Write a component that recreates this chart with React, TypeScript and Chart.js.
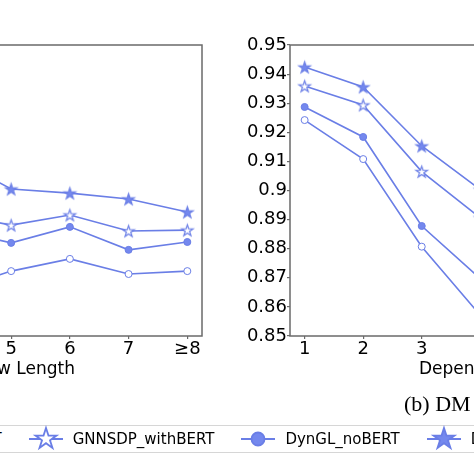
import React, { useEffect, useRef } from 'react';
import { Chart, registerables } from 'chart.js';
Chart.register(...registerables);

const seriesNames = ['GNNSDP_noBERT', 'GNNSDP_withBERT', 'DynGL_noBERT', 'DynGL_withBERT'];
const seriesMarkers = ['circle-open', 'star-open', 'circle-filled', 'star-filled'];

const yTicks = [0.85, 0.86, 0.87, 0.88, 0.89, 0.9, 0.91, 0.92, 0.93, 0.94, 0.95];
const yTickLabels = ['0.85', '0.86', '0.87', '0.88', '0.89', '0.9', '0.91', '0.92', '0.93', '0.94', '0.95'];

// (a) by length
const lengthTicks = [3, 4, 5, 6, 7, 8];
const lengthTickLabels = ['3', '4', '5', '6', '7', '≥8'];
const lengthX = [4, 5, 6, 7, 8];
const lengthGNNSDPno = [0.8656, 0.8723, 0.8765, 0.8713, 0.8723];
const lengthGNNSDPwith = [0.892, 0.8881, 0.8916, 0.8861, 0.8864];
const lengthDynGLno = [0.8866, 0.882, 0.8875, 0.8796, 0.8823];
const lengthDynGLwith = [0.9113, 0.9005, 0.8991, 0.8971, 0.8926];

// (b) by depth
const depthTicks = [1, 2, 3, 4, 5, 6];
const depthTickLabels = ['1', '2', '3', '4', '5', '6'];
const depthX = [1, 2, 3, 4];
const depthGNNSDPno = [0.9242, 0.9108, 0.8807, 0.8571];
const depthGNNSDPwith = [0.9359, 0.9294, 0.9065, 0.8906];
const depthDynGLno = [0.9287, 0.9184, 0.8878, 0.8697];
const depthDynGLwith = [0.9424, 0.9356, 0.9153, 0.9003];

const xLabelLeft = 'Arrow Length';
const xLabelRight = 'Dependency Depth';
const captionRight = '(b) DM';

const COLOR = '#6a7ee6';
const FILL = '#7488ee';
const FRAME = '#6a6a6a';
const FONT = "'DejaVu Sans', sans-serif";

function starCanvas(R: number, filled: boolean) {
  const lw = 1.2;
  const size = Math.ceil(2 * R + 2 * lw + 2);
  const c = document.createElement('canvas');
  c.width = size;
  c.height = size;
  const ctx = c.getContext('2d')!;
  const cx = size / 2, cy = size / 2 + R * 0.1;
  ctx.beginPath();
  for (let i = 0; i < 10; i++) {
    const r = i % 2 === 0 ? R : R * 0.382;
    const a = -Math.PI / 2 + (i * Math.PI) / 5;
    const x = cx + r * Math.cos(a), y = cy + r * Math.sin(a);
    if (i === 0) ctx.moveTo(x, y); else ctx.lineTo(x, y);
  }
  ctx.closePath();
  ctx.fillStyle = filled ? FILL : '#ffffff';
  ctx.fill();
  ctx.lineWidth = lw;
  ctx.strokeStyle = COLOR;
  ctx.stroke();
  return c;
}

const framePlugin = {
  id: 'frame',
  afterDraw(chart: any) {
    const { ctx, chartArea } = chart;
    ctx.save();
    ctx.strokeStyle = FRAME;
    ctx.lineWidth = 1.5;
    ctx.strokeRect(chartArea.left, chartArea.top, chartArea.right - chartArea.left, chartArea.bottom - chartArea.top);
    ctx.restore();
  },
};

function makeDatasets(xs: number[], lists: number[][]) {
  const starOpen = starCanvas(6, false);
  const starFilled = starCanvas(6, true);
  return lists.map((vals, i) => {
    const m = seriesMarkers[i];
    const isStar = m.startsWith('star');
    const filled = m.endsWith('filled');
    return {
      label: seriesNames[i],
      data: xs.map((x, j) => ({ x, y: vals[j] })),
      borderColor: COLOR,
      borderWidth: 1.6,
      backgroundColor: filled ? FILL : '#ffffff',
      pointStyle: isStar ? (filled ? starFilled : starOpen) : 'circle',
      pointRadius: isStar ? 6 : 3.5,
      pointBorderWidth: 1,
      pointBorderColor: COLOR,
      pointBackgroundColor: filled ? FILL : '#ffffff',
      tension: 0,
      fill: false,
    };
  });
}

function makeConfig(xs: number[], lists: number[][], ticks: number[], tickLabels: string[], xmin: number, xmax: number, yWidth: number, padRight: number): any {
  return {
    type: 'line',
    data: { datasets: makeDatasets(xs, lists) },
    options: {
      responsive: false,
      animation: false,
      layout: { padding: { top: 45, right: padRight, left: 0, bottom: 0 } },
      plugins: { legend: { display: false }, tooltip: { enabled: false } },
      scales: {
        x: {
          type: 'linear',
          min: xmin,
          max: xmax,
          afterBuildTicks: (scale: any) => {
            scale.ticks = ticks.map((v) => ({ value: v }));
          },
          afterFit: (scale: any) => {
            scale.height = 44;
          },
          border: { display: false },
          grid: { drawOnChartArea: false, drawTicks: true, tickLength: 3, color: FRAME, lineWidth: 1.2 },
          ticks: {
            autoSkip: false,
            maxRotation: 0,
            padding: 0,
            color: '#000',
            font: { family: FONT, size: 18, lineHeight: 1.2 },
            callback: (v: number) => {
              const k = ticks.indexOf(v);
              return k >= 0 ? tickLabels[k] : '';
            },
          },
        },
        y: {
          type: 'linear',
          min: 0.85,
          max: 0.95,
          afterBuildTicks: (scale: any) => {
            scale.ticks = yTicks.map((v) => ({ value: v }));
          },
          afterFit: (scale: any) => {
            scale.width = yWidth;
          },
          border: { display: false },
          grid: { drawOnChartArea: false, drawTicks: true, tickLength: 3, color: FRAME, lineWidth: 1.2 },
          ticks: {
            autoSkip: false,
            padding: 0,
            color: '#000',
            font: { family: FONT, size: 18 },
            callback: (v: number) => {
              const k = yTicks.findIndex((t) => Math.abs(t - v) < 1e-9);
              return k >= 0 ? yTickLabels[k] : '';
            },
          },
        },
      },
    },
    plugins: [framePlugin],
  };
}

function LegendIcon({ marker }: { marker: string }) {
  const isStar = marker.startsWith('star');
  const filled = marker.endsWith('filled');
  const fill = filled ? FILL : '#ffffff';
  let shape: any;
  if (isStar) {
    const R = 11, cx = 17, cy = 13;
    const pts: string[] = [];
    for (let i = 0; i < 10; i++) {
      const r = i % 2 === 0 ? R : R * 0.382;
      const a = -Math.PI / 2 + (i * Math.PI) / 5;
      pts.push(`${(cx + r * Math.cos(a)).toFixed(2)},${(cy + r * Math.sin(a)).toFixed(2)}`);
    }
    shape = <polygon points={pts.join(' ')} fill={fill} stroke={COLOR} strokeWidth={1.8} />;
  } else {
    shape = <circle cx={17} cy={13} r={6.5} fill={fill} stroke={COLOR} strokeWidth={1.8} />;
  }
  return (
    <svg width={34} height={26} style={{ display: 'block', overflow: 'visible' }}>
      <line x1={0} y1={13} x2={34} y2={13} stroke={COLOR} strokeWidth={2.2} />
      {shape}
    </svg>
  );
}

export default function App() {
  const leftRef = useRef<HTMLCanvasElement>(null);
  const rightRef = useRef<HTMLCanvasElement>(null);

  useEffect(() => {
    document.body.style.margin = '0';
    const left = new Chart(
      leftRef.current!,
      makeConfig(lengthX, [lengthGNNSDPno, lengthGNNSDPwith, lengthDynGLno, lengthDynGLwith], lengthTicks, lengthTickLabels, 2.75, 8.25, 79, 3)
    );
    const right = new Chart(
      rightRef.current!,
      makeConfig(depthX, [depthGNNSDPno, depthGNNSDPwith, depthDynGLno, depthDynGLwith], depthTicks, depthTickLabels, 0.75, 6.25, 90, 62)
    );
    return () => {
      left.destroy();
      right.destroy();
    };
  }, []);

  return (
    <div style={{ position: 'fixed', left: 0, top: 0, width: 474, height: 474, overflow: 'hidden', background: '#fff' }}>
      <canvas ref={leftRef} width={409} height={380} style={{ position: 'absolute', left: -200, top: 0, width: 409, height: 380 }} />
      <canvas ref={rightRef} width={474} height={380} style={{ position: 'absolute', left: 200, top: 0, width: 474, height: 380 }} />
      <div style={{ position: 'absolute', right: 474 - 75, top: 357, fontFamily: FONT, fontSize: 17, lineHeight: '22px', whiteSpace: 'nowrap', color: '#000' }}>
        {xLabelLeft}
      </div>
      <div style={{ position: 'absolute', left: 419, top: 357, fontFamily: FONT, fontSize: 17, lineHeight: '22px', whiteSpace: 'nowrap', color: '#000' }}>
        {xLabelRight}
      </div>
      <div style={{ position: 'absolute', left: 404, top: 391, fontFamily: "'Liberation Serif', serif", fontSize: 22, lineHeight: '26px', whiteSpace: 'nowrap', color: '#000' }}>
        {captionRight}
      </div>
      <div
        style={{
          position: 'absolute',
          left: -260,
          top: 425,
          width: 1100,
          height: 28,
          boxSizing: 'border-box',
          border: '1.5px solid #d6d6d6',
          borderRadius: 3,
        }}
      />
      <div style={{ position: 'absolute', left: -171, top: 425, height: 28, display: 'flex', alignItems: 'center', gap: 27, whiteSpace: 'nowrap' }}>
        {seriesNames.map((name, i) => (
          <div key={name} style={{ display: 'flex', alignItems: 'center', gap: 10 }}>
            <LegendIcon marker={seriesMarkers[i]} />
            <span style={{ fontFamily: FONT, fontSize: 15, color: '#000' }}>{name}</span>
          </div>
        ))}
      </div>
    </div>
  );
}
